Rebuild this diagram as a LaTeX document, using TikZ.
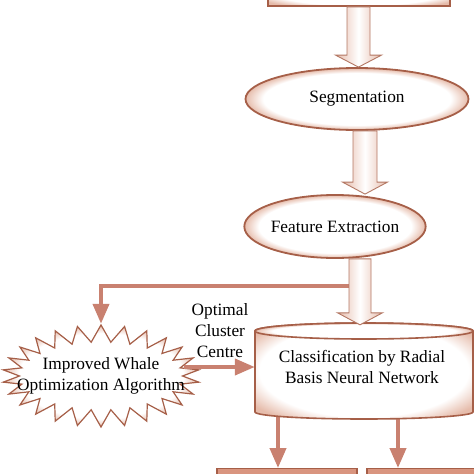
\documentclass[tikz,border=0pt]{standalone}
\usepackage{fontspec}
\setmainfont{Liberation Serif}
\usetikzlibrary{shapes.geometric,shapes.symbols,shapes.misc,arrows.meta,calc}
\definecolor{edge}{HTML}{A65F48}
\definecolor{pinkedge}{HTML}{E6BCAB}
\definecolor{linec}{HTML}{C98170}
\definecolor{boxc}{HTML}{D9957F}
\pgfdeclareradialshading{soft}{\pgfpointorigin}{color(0bp)=(white); color(21bp)=(white); color(25bp)=(pinkedge); color(50bp)=(pinkedge)}
\pgfdeclareradialshading{softrect}{\pgfpointorigin}{color(0bp)=(white); color(24bp)=(white); color(31bp)=(pinkedge); color(50bp)=(pinkedge)}
\newcommand\blockarrow[5]{%
  \path[blockarrow] let \p1=#2, \p2=#3 in
    (#1pt-#4pt,\y1) -- (#1pt+#4pt,\y1) -- (#1pt+#4pt,\y2+12pt) -- (#1pt+#5pt,\y2+12pt)
    -- (#1pt,\y2) -- (#1pt-#5pt,\y2+12pt) -- (#1pt-#4pt,\y2+12pt) -- cycle;}
\begin{document}
\begin{tikzpicture}[x=1pt,y=-1pt,
  every node/.style={font=\fontsize{17.3pt}{20.5pt}\selectfont, inner sep=0pt},
  ell/.style={ellipse, draw=edge, line width=1.8pt, shade, shading=soft},
  shapeline/.style={draw=edge, line width=1.6pt, shade, shading=softrect},
  blockarrow/.style={draw=edge!85, line width=0.9pt, left color=pinkedge, right color=pinkedge, middle color=white},
  linearrow/.style={draw=linec, line width=4pt, -{Triangle[width=16pt,length=20pt]}},
  outbox/.style={chamfered rectangle, chamfered rectangle corners=north west, chamfered rectangle sep=5pt,
     minimum width=140pt, minimum height=30pt, anchor=north, fill=boxc, draw=edge, line width=1.2pt}]
\useasboundingbox (0,0) rectangle (474,474);
\clip (0,0) rectangle (474,474);

% nodes
\node[shapeline, rectangle, minimum width=182pt, minimum height=30pt] (top) at (359,-9) {};
\node[ell, minimum width=223pt, minimum height=62pt] (seg) at (357,99) {Segmentation};
\node[ell, minimum width=176pt, minimum height=63pt] (feat) at (335,226.5) {Feature Extraction};
\node[starburst, random starburst=0, starburst points=26, starburst point height=17pt,
      draw=edge, line width=1.2pt, shade, shading=soft, minimum width=197pt, minimum height=102pt] (iwoa) at (101,376) {};
\node[align=center] (iwoatext) at (101,376) {Improved Whale\\Optimization Algorithm};
\node[align=center, font=\fontsize{17.3pt}{21pt}\selectfont] (lbl) at (220,331) {Optimal\\Cluster\\Centre};
\node[minimum width=218pt, minimum height=90pt] (cls) at (364,367) {};
\node[outbox] (out1) at (287,468) {};
\node[outbox, minimum width=110pt] (out2) at (422,468) {};

% connectors (line arrows)
\coordinate (br) at (349,286);
\draw[linearrow] (br) -| (iwoa.north);
\draw[linearrow] ([yshift=9pt]iwoa.east) -- ([yshift=9pt]iwoa.east -| cls.west);
\draw[linearrow] ([xshift=-86pt,yshift=-4pt]cls.south) -- ([xshift=-86pt]cls.south |- out1.north);
\draw[linearrow] ([xshift=34pt,yshift=-4pt]cls.south) -- ([xshift=34pt]cls.south |- out2.north);

% cylinder around cls
\path[shapeline] (255,331) -- (255,412) arc[start angle=180, end angle=0, x radius=109, y radius=7]
   -- (473,331) arc[start angle=360, end angle=180, x radius=109, y radius=8] -- cycle;
\path[draw=edge, line width=1.6pt, shade, shading=soft] (364,331) ellipse[x radius=109, y radius=8];
\node[align=center] (clstext) at (362,367) {Classification by Radial\\Basis Neural Network};

% block arrows
\blockarrow{358.5}{(top.south)}{(seg.north)}{11.5}{23}
\blockarrow{365}{(seg.south)}{(feat.north)}{12}{22.5}
\blockarrow{360}{(feat.south)}{([yshift=-3pt]cls.north)}{11}{22.5}
\end{tikzpicture}
\end{document}
